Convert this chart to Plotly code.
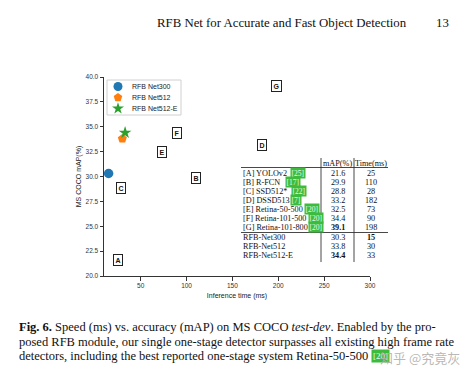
import plotly.graph_objects as go

# ---------------- data ----------------
letters = ["A", "B", "C", "D", "E", "F", "G"]
methods = ["YOLOv2", "R-FCN", "SSD512*", "DSSD513", "Retina-50-500", "Retina-101-500", "Retina-101-800"]
cites = ["25", "17", "22", "7", "20", "20", "20"]
other_map = [21.6, 29.9, 28.8, 33.2, 32.5, 34.4, 39.1]
other_time = [25, 110, 28, 182, 73, 90, 198]

rfb_names = ["RFB-Net300", "RFB-Net512", "RFB-Net512-E"]
rfb_legend = ["RFB Net300", "RFB Net512", "RFB Net512-E"]
rfb_map = [30.3, 33.8, 34.4]
rfb_time = [15, 30, 33]

x_ticks = [50, 100, 150, 200, 250, 300]
y_ticks = [20.0, 22.5, 25.0, 27.5, 30.0, 32.5, 35.0, 37.5, 40.0]

# ---------------- styles ----------------
W, H = 474, 376
L, R, T, B = 104, 104, 77, 100
PW, PH = W - L - R, H - T - B
colors = ["#1f77b4", "#ff7f0e", "#2ca02c"]
symbols = ["circle", "pentagon", "star"]
SANS = "Liberation Sans, DejaVu Sans, Arial, sans-serif"
SERIF = "Liberation Serif, DejaVu Serif, Times New Roman, serif"
GREEN_BOX = "#3dbb3d"


def px(x):
    return (x - L) / PW


def py(y):
    return (H - B - y) / PH


def note(x, y, text, font, xanchor="center", **kw):
    return dict(x=px(x), y=py(y), xref="paper", yref="paper", text=text, showarrow=False,
                xanchor=xanchor, yanchor="middle", font=font, **kw)


fig = go.Figure()

# RFB points
for i in range(3):
    fig.add_trace(go.Scatter(
        x=[rfb_time[i]], y=[rfb_map[i]], mode="markers", name=rfb_legend[i],
        marker=dict(symbol=symbols[i], size=9.5, color=colors[i], line=dict(width=0)),
        showlegend=False, cliponaxis=False))

annotations = []
shapes = []

# Letter boxes for other detectors
for lt, t, m in zip(letters, other_time, other_map):
    annotations.append(dict(
        x=t, y=m, xref="x", yref="y", text="<b>%s</b>" % lt, showarrow=False,
        xanchor="center", yanchor="middle",
        font=dict(family=SANS, size=7, color="#111"), bgcolor="white",
        bordercolor="#222", borderwidth=1, borderpad=1.5))

# ---- custom legend ----
shapes.append(dict(type="rect", xref="paper", yref="paper", x0=px(107), x1=px(181),
                   y0=py(80), y1=py(115), line=dict(color="#d0d0d0", width=1),
                   fillcolor="rgba(0,0,0,0)", layer="above"))
leg_rows = [86.5, 97.5, 108.5]
fig.add_trace(go.Scatter(
    x=[px(118)] * 3, y=[py(v) for v in leg_rows], xaxis="x2", yaxis="y2",
    mode="markers", showlegend=False, cliponaxis=False, hoverinfo="skip",
    marker=dict(symbol=symbols, size=9, color=colors, line=dict(width=0))))
for i in range(3):
    annotations.append(note(130, leg_rows[i], rfb_legend[i],
                            dict(family=SANS, size=7, color="#222"), xanchor="left"))

# ---- table ----
tfont = dict(family=SERIF, size=8.2, color="#111")
col_name, col_map, col_time = 241, 337.5, 371
annotations.append(note(col_map, 163, "mAP(%)", tfont))
annotations.append(note(col_time, 163, "Time(ms)", tfont))
cite_x = [290, 285, 291, 290, 304, 308, 308]
for i in range(7):
    yy = 173 + 9 * i
    annotations.append(note(col_name, yy, "[%s] %s" % (letters[i], methods[i]), tfont,
                            xanchor="left"))
    annotations.append(note(cite_x[i], yy, "[%s]" % cites[i],
                            dict(family=SERIF, size=7.5, color="#e8ffe8"), xanchor="left",
                            bgcolor=GREEN_BOX, borderpad=0.5))
    mv = "%.1f" % other_map[i]
    if other_map[i] == max(other_map):
        mv = "<b>%s</b>" % mv
    annotations.append(note(col_map, yy, mv, tfont))
    annotations.append(note(col_time, yy, str(other_time[i]), tfont))
for i in range(3):
    yy = 237 + 9.3 * i
    annotations.append(note(col_name, yy, rfb_names[i], tfont, xanchor="left"))
    mv = "%.1f" % rfb_map[i]
    if rfb_map[i] == max(rfb_map):
        mv = "<b>%s</b>" % mv
    tv = str(rfb_time[i])
    if rfb_time[i] == min(rfb_time):
        tv = "<b>%s</b>" % tv
    annotations.append(note(col_map, yy, mv, tfont))
    annotations.append(note(col_time, yy, tv, tfont))

line_style = dict(color="#333", width=0.9)
for yl in (167.5, 232.5):
    shapes.append(dict(type="line", xref="paper", yref="paper", x0=px(241), x1=px(388),
                       y0=py(yl), y1=py(yl), line=line_style, layer="above"))
for xl in (321, 354):
    shapes.append(dict(type="line", xref="paper", yref="paper", x0=px(xl), x1=px(xl),
                       y0=py(158), y1=py(262), line=line_style, layer="above"))

# ---- page header ----
hfont = dict(family=SERIF, size=12.8, color="#111")
annotations.append(note(282, 23, "RFB Net for Accurate and Fast Object Detection", hfont))
annotations.append(note(442.5, 23, "13", hfont))

# ---- caption ----
cfont = dict(family=SERIF, size=12.5, color="#111")
cap_lines = [
    "<b>Fig. 6.</b> Speed (ms) vs. accuracy (mAP) on MS COCO <i>test-dev</i>. Enabled by the pro-",
    "posed RFB module, our single one-stage detector surpasses all existing high frame rate",
    "detectors, including the best reported one-stage system Retina-50-500",
]
cap_y = [327, 341.5, 356]
for txt, yy in zip(cap_lines, cap_y):
    annotations.append(note(17, yy, txt, cfont, xanchor="left"))
annotations.append(note(371, 356, "[20]", dict(family=SERIF, size=9, color="#e8ffe8"),
                        xanchor="left", bgcolor=GREEN_BOX, borderpad=1))
annotations.append(note(378, 357, "知乎 @究竟灰",
                        dict(family="Noto Sans CJK SC", size=13, color="rgba(175,175,175,0.9)"),
                        xanchor="left"))

axis_common = dict(showgrid=False, zeroline=False, showline=True, linecolor="#333",
                   linewidth=1, ticks="outside", ticklen=3.5, tickwidth=1, tickcolor="#333",
                   tickfont=dict(family=SANS, size=6.5, color="#333"))

fig.update_layout(
    width=W, height=H, margin=dict(l=L, r=R, t=T, b=B, autoexpand=False),
    paper_bgcolor="white", plot_bgcolor="white", showlegend=False,
    xaxis=dict(range=[10, 300], tickvals=x_ticks, ticktext=[str(v) for v in x_ticks],
               title=dict(text="Inference time (ms)", standoff=4,
                          font=dict(family=SANS, size=7, color="#222")), **axis_common),
    yaxis=dict(range=[20, 40], tickvals=y_ticks, ticktext=["%.1f" % v for v in y_ticks],
               title=dict(text="MS COCO mAP(%)", standoff=3,
                          font=dict(family=SANS, size=7, color="#222")), **axis_common),
    xaxis2=dict(overlaying="x", range=[0, 1], visible=False, fixedrange=True),
    yaxis2=dict(overlaying="y", range=[0, 1], visible=False, fixedrange=True),
    annotations=annotations, shapes=shapes,
)

fig.write_html("out.html", config={"displayModeBar": False},
               post_script="document.body.style.margin='0';")
